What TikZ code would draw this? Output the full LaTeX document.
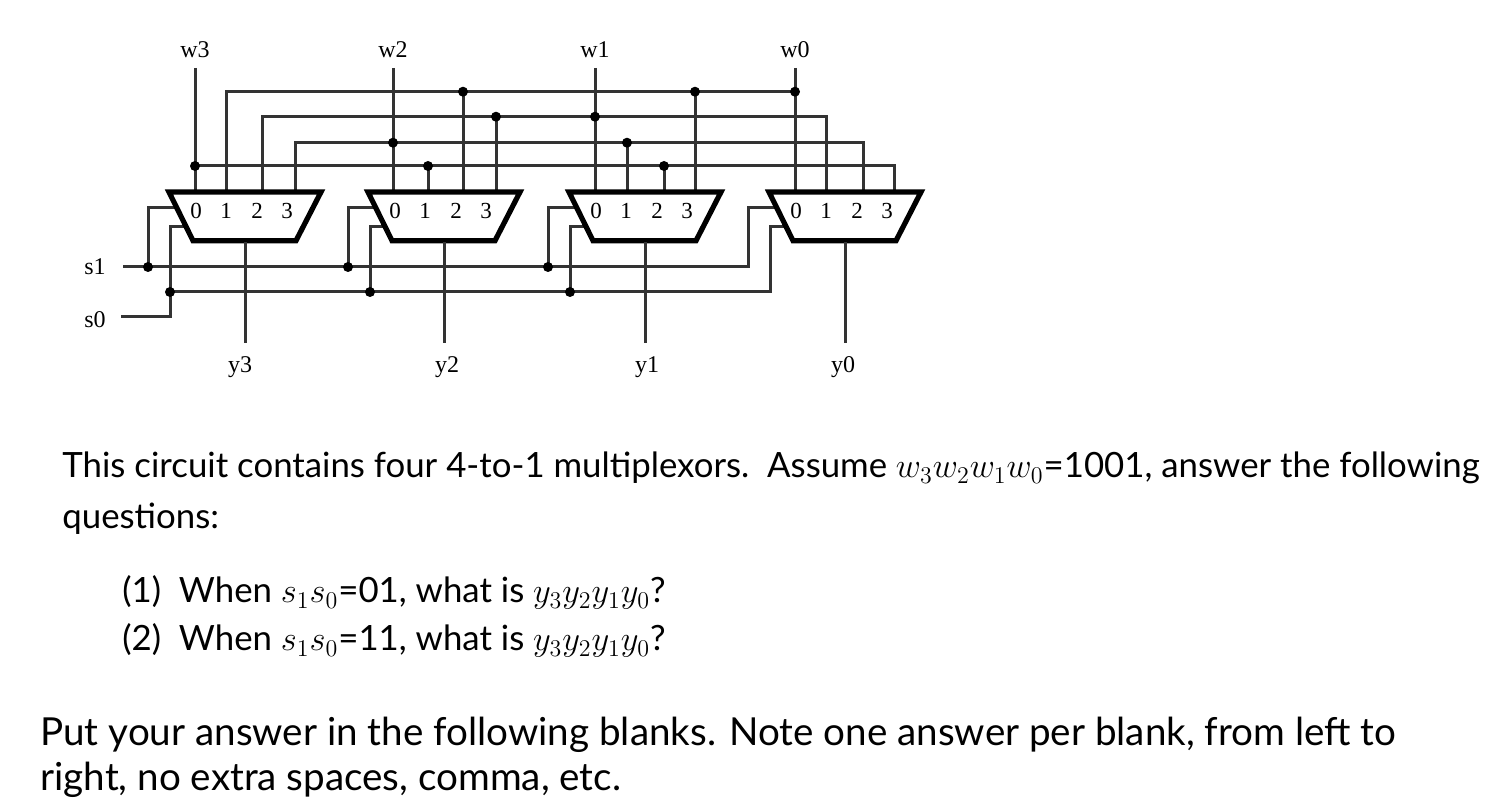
\documentclass[tikz,border=0pt]{standalone}
\usepackage{fontspec}
\setmainfont{Lato}
\newfontfamily\circfont{Liberation Serif}
\begin{document}
\begin{tikzpicture}[x=0.5pt,y=-0.5pt,
  wire/.style={line width=1.5pt,draw=black!80},
  muxbox/.style={line width=2.6pt,draw=black,fill=white,line join=miter},
  jdot/.style={circle,fill=black,inner sep=0pt,minimum size=5pt},
  clab/.style={font=\circfont\fontsize{12}{13}\selectfont,inner sep=0pt},
  dlab/.style={font=\circfont\fontsize{11.5}{12}\selectfont,inner sep=0pt},
  ptext/.style={anchor=base west,inner sep=0pt,font=\fontsize{17.4}{20}\selectfont},
  btext/.style={anchor=base west,inner sep=0pt,font=\fontsize{19.3}{22}\selectfont}]
\useasboundingbox (0,0) rectangle (1506,812);
% bus rows
\def\ya{91.7}\def\yb{116.7}\def\yc{142.7}\def\yd{166}
% w inputs
\foreach \n/\x in {3/195,2/393,1/595,0/795}{
  \node[clab] (w\n) at (\x,50) {w\n};
  \coordinate (wt\n) at (\x,68);
}
% bus lines
\draw[wire] (226,192) |- (795,\ya);
\draw[wire] (262,192) |- (826,\yb) -- (826,192);
\draw[wire] (295,192) |- (863,\yc) -- (863,192);
\draw[wire] (195,\yd) -- (894,\yd) -- (894,192);
% w verticals
\draw[wire] (wt3) -- (195,192);
\draw[wire] (wt2) -- (393,192);
\draw[wire] (wt1) -- (595,192);
\draw[wire] (wt0) -- (795,192);
% other input drops
\draw[wire] (428,\yd) -- (428,192);
\draw[wire] (463,\ya) -- (463,192);
\draw[wire] (496,\yb) -- (496,192);
\draw[wire] (627,\yc) -- (627,192);
\draw[wire] (664,\yd) -- (664,192);
\draw[wire] (695,\ya) -- (695,192);
\foreach \p in {(195,\yd),(428,\yd),(463,\ya),(496,\yb),(393,\yc),(595,\yb),(627,\yc),(664,\yd),(695,\ya),(795,\ya)}
  \node[jdot] at \p {};
% select lines
\node[clab] (s1) at (95,267) {s1};
\node[clab] (s0) at (95,320) {s0};
\draw[wire] (123,267) -- (748,267) -- (748,208) -- (780,208);
\draw[wire] (121,317) -- (170,317) -- (170,292) -- (770,292) -- (770,227) -- (790,227);
\foreach \i/\ox in {3/0,2/200,1/400}{
  \draw[wire] (148+\ox,267) |- (180+\ox,208);
  \draw[wire] (170+\ox,292) |- (190+\ox,227);
  \node[jdot] at (148+\ox,267) {};
  \node[jdot] at (170+\ox,292) {};
}
% muxes and outputs
\foreach \i/\ox/\lx in {3/0/240,2/199/447,1/400/647,0/600/843}{
  \draw[muxbox] (169+\ox,192) -- (321+\ox,192) -- (296+\ox,240.7) -- (193+\ox,240.7) -- cycle;
  \foreach \d/\dx in {0/196,1/226,2/257,3/287}
    \node[dlab] at (\dx+\ox,211) {\d};
  \draw[wire] (245+\ox,242) -- (245+\ox,343);
  \node[clab] (y\i) at (\lx,367) {y\i};
}
% text
\node[ptext] (t1) at (62,478) {This circuit contains four 4-to-1 multiplexors.\ \ Assume $w_3w_2w_1w_0$=1001, answer the following};
\node[ptext] (t2) at (62,529) {questions:};
\node[ptext] (q1) at (122,603) {(1)\ \ When $s_1s_0$=01, what is $y_3y_2y_1y_0$?};
\node[ptext] (q2) at (122,651) {(2)\ \ When $s_1s_0$=11, what is $y_3y_2y_1y_0$?};
\node[btext] (b1) at (40,746) {Put your answer in the following blanks. Note one answer per blank, from left to};
\node[btext] (b2) at (40,790) {right, no extra spaces, comma, etc.};
\end{tikzpicture}
\end{document}
